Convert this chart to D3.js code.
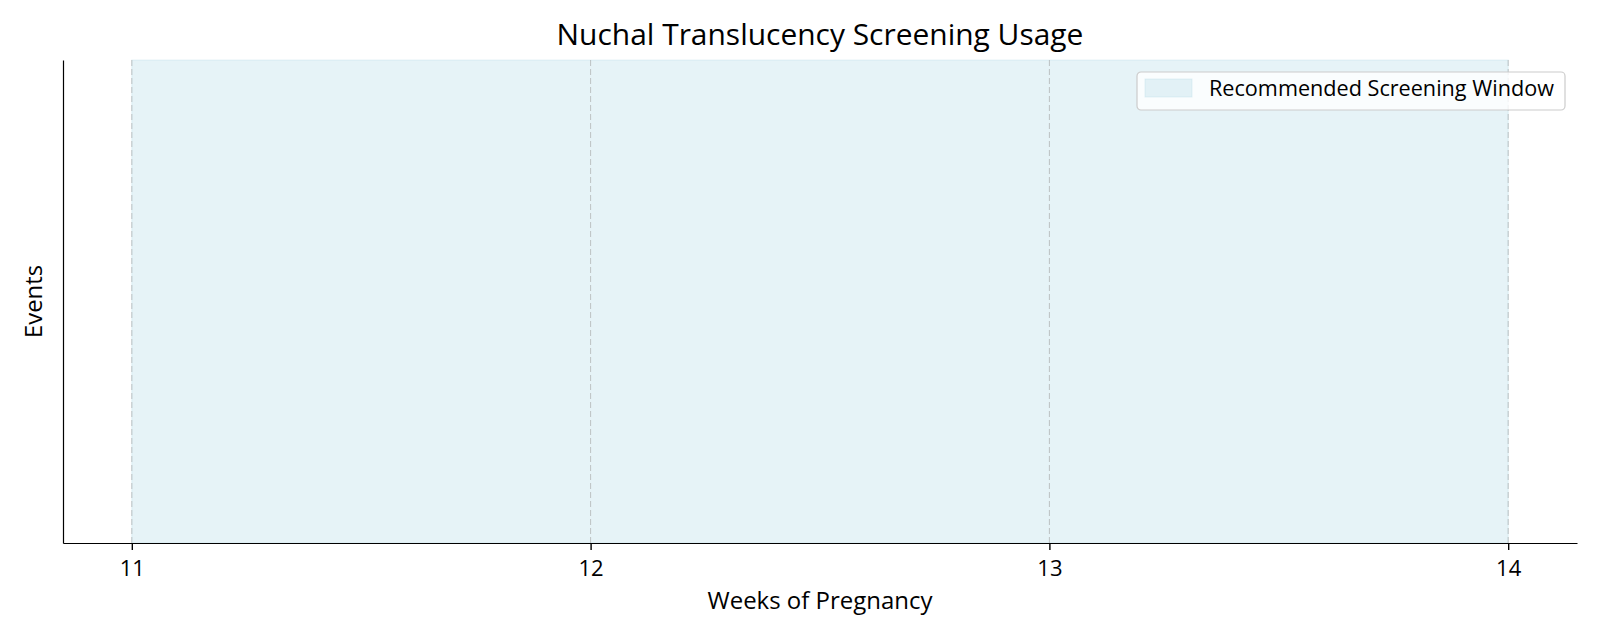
<!DOCTYPE html>
<html>
<head>
<meta charset="utf-8">
<script src="https://cdn.jsdelivr.net/npm/d3@7"></script>
<style>
  html, body { margin: 0; padding: 0; background: #fff; }
  svg { display: block; font-family: "Open Sans", "Noto Sans", sans-serif; }
</style>
</head>
<body>
<svg id="chart" width="1600" height="640"></svg>
<script>
// ---- data ----
const chartTitle = "Nuchal Translucency Screening Usage";
const xAxisLabel = "Weeks of Pregnancy";
const yAxisLabel = "Events";
const weekTicks = [11, 12, 13, 14];
const screeningWindowStart = [11];
const screeningWindowEnd = [14];
const windowLabels = ["Recommended Screening Window"];

// ---- layout ----
const W = 1600, H = 640;
const margin = { top: 60, right: 23, bottom: 97, left: 63 };
const iw = W - margin.left - margin.right;
const ih = H - margin.top - margin.bottom;

const svg = d3.select("#chart");
const g = svg.append("g").attr("transform", `translate(${margin.left},${margin.top})`);

// scale text so its rendered width matches the reference
function fitWidth(sel, target) {
  const base = 20;
  sel.attr("font-size", base);
  const w = sel.node().getComputedTextLength();
  if (w > 0) sel.attr("font-size", base * target / w);
  return sel;
}

const xMin = d3.min(weekTicks), xMax = d3.max(weekTicks);
const pad = (xMax - xMin) * 0.05;
const x = d3.scaleLinear().domain([xMin - pad, xMax + pad]).range([0, iw]);
const y = d3.scaleLinear().domain([0, 1]).range([ih, 0]);

const spanFill = "rgba(173,216,230,0.3)";

// window span
const spans = screeningWindowStart.map((s, i) => ({ s, e: screeningWindowEnd[i], label: windowLabels[i] }));
g.selectAll("rect.span").data(spans).join("rect")
  .attr("class", "span")
  .attr("x", d => x(d.s)).attr("width", d => x(d.e) - x(d.s))
  .attr("y", y(1)).attr("height", y(0) - y(1))
  .attr("fill", spanFill)
  .attr("stroke", spanFill).attr("stroke-width", 1);

// vertical grid
g.selectAll("line.grid").data(weekTicks).join("line")
  .attr("class", "grid")
  .attr("x1", d => x(d)).attr("x2", d => x(d))
  .attr("y1", 0).attr("y2", ih)
  .attr("stroke", "#a0a0a0").attr("stroke-opacity", 0.6)
  .attr("stroke-width", 1).attr("stroke-dasharray", "6,3");

// x axis
const xAxis = g.append("g").attr("transform", `translate(0,${ih})`)
  .call(d3.axisBottom(x).tickValues(weekTicks).tickFormat(d3.format("d")).tickSize(7).tickSizeOuter(0).tickPadding(10));
xAxis.select(".domain").attr("stroke", "#000").attr("stroke-width", 1.2);
xAxis.selectAll(".tick line").attr("stroke", "#000").attr("stroke-width", 1.4);
xAxis.selectAll(".tick text").attr("font-size", 22).attr("fill", "#000")
  .attr("font-family", "'Open Sans', sans-serif").attr("dy", "0.71em");

// y axis (no ticks)
const yAxis = g.append("g").call(d3.axisLeft(y).tickValues([]).tickSizeOuter(0));
yAxis.select(".domain").attr("stroke", "#000").attr("stroke-width", 1.2);

// title
const title = svg.append("text").attr("x", margin.left + iw / 2).attr("y", 45).attr("text-anchor", "middle")
  .attr("fill", "#000").text(chartTitle);
fitWidth(title, 527);

// x label
const xl = svg.append("text").attr("x", margin.left + iw / 2).attr("y", 609).attr("text-anchor", "middle")
  .attr("fill", "#000").text(xAxisLabel);
fitWidth(xl, 225);

// y label
const yl = svg.append("text").attr("transform", `translate(42,${margin.top + ih / 2}) rotate(-90)`)
  .attr("text-anchor", "middle").attr("fill", "#000").text(yAxisLabel);
fitWidth(yl, 73);

// legend
const lg = svg.append("g").attr("transform", "translate(1137,72)");
lg.append("rect").attr("width", 428).attr("height", 38).attr("rx", 4)
  .attr("fill", "rgba(255,255,255,0.8)").attr("stroke", "#cccccc").attr("stroke-width", 1.2);
lg.selectAll("rect.patch").data(spans).join("rect").attr("class", "patch")
  .attr("x", 8).attr("y", 7).attr("width", 47).attr("height", 18)
  .attr("fill", spanFill).attr("stroke", spanFill);
lg.selectAll("text.lt").data(spans).join("text").attr("class", "lt")
  .attr("x", 72).attr("y", 24).attr("fill", "#000").text(d => d.label)
  .each(function () { fitWidth(d3.select(this), 345); });
</script>
</body>
</html>
